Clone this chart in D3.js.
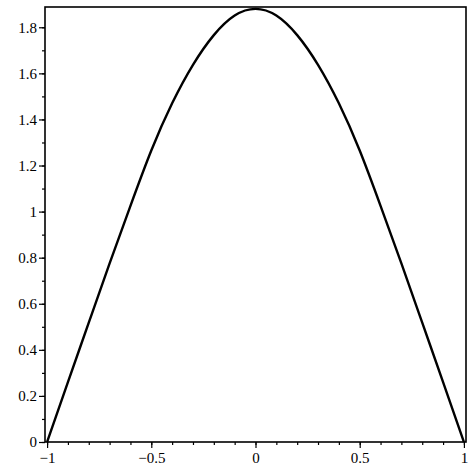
<!DOCTYPE html>
<html>
<head>
<meta charset="utf-8">
<script src="https://cdn.jsdelivr.net/npm/d3@7"></script>
<style>
    body { margin: 0; background: #fff; }
    svg text { font-family: "Liberation Serif", "Times New Roman", serif; font-size: 15px; fill: #000; }
</style>
</head>
<body>
<div id="chart"></div>
<script>
"use strict";

// values, every 0.1 in x
var xValues = [-1, -0.9, -0.8, -0.7, -0.6, -0.5, -0.4, -0.3, -0.2, -0.1, 0,
               0.1, 0.2, 0.3, 0.4, 0.5, 0.6, 0.7, 0.8, 0.9, 1];
var yValues = [0, 0.26, 0.518, 0.775, 1.025, 1.265, 1.47, 1.637, 1.766, 1.851, 1.88,
               1.851, 1.766, 1.637, 1.47, 1.265, 1.025, 0.775, 0.518, 0.26, 0];

var xTicks = [-1, -0.5, 0, 0.5, 1];
var xTickLabels = ["\u22121", "\u22120.5", "0", "0.5", "1"];
var xMinorTicks = d3.range(-10, 11).map(function (i) { return i / 10; });

var yTicks = [0, 0.2, 0.4, 0.6, 0.8, 1, 1.2, 1.4, 1.6, 1.8];
var yTickLabels = ["0", "0.2", "0.4", "0.6", "0.8", "1", "1.2", "1.4", "1.6", "1.8"];
var yMinorTicks = d3.range(0, 19).map(function (i) { return i / 10; });

function plot_chart() {
    var width = 474, height = 474;
    var left = 45, right = 466, top = 7, bottom = 442;

    var svg = d3.select("#chart")
        .append("svg")
        .attr("width", width)
        .attr("height", height);

    var x = d3.scaleLinear().domain([-1.01, 1.01]).range([left, right]);
    var y = d3.scaleLinear().domain([0, 1.888]).range([bottom, top]);

    // minor ticks first, no labels
    svg.append("g")
        .attr("transform", "translate(0," + bottom + ")")
        .call(d3.axisBottom(x).tickValues(xMinorTicks).tickSize(3).tickFormat(""))
        .call(function (g) { g.select(".domain").remove(); });
    svg.append("g")
        .attr("transform", "translate(" + left + ",0)")
        .call(d3.axisLeft(y).tickValues(yMinorTicks).tickSize(3).tickFormat(""))
        .call(function (g) { g.select(".domain").remove(); });

    // major ticks with labels
    svg.append("g")
        .attr("transform", "translate(0," + bottom + ")")
        .call(d3.axisBottom(x).tickValues(xTicks).tickSize(6).tickPadding(4)
            .tickFormat(function (d, i) { return xTickLabels[i]; }))
        .call(function (g) { g.select(".domain").remove(); })
        .call(function (g) { g.selectAll("text").attr("font-size", null); });
    svg.append("g")
        .attr("transform", "translate(" + left + ",0)")
        .call(d3.axisLeft(y).tickValues(yTicks).tickSize(6).tickPadding(2)
            .tickFormat(function (d, i) { return yTickLabels[i]; }))
        .call(function (g) { g.select(".domain").remove(); })
        .call(function (g) { g.selectAll("text").attr("font-size", null); });

    svg.selectAll(".tick line").attr("stroke", "#000").attr("stroke-width", 1.2);
    svg.selectAll("g").attr("font-family", null);

    // box frame
    svg.append("rect")
        .attr("x", left)
        .attr("y", top)
        .attr("width", right - left)
        .attr("height", bottom - top)
        .attr("fill", "none")
        .attr("stroke", "#000")
        .attr("stroke-width", 1.6);

    // the curve
    var data = xValues.map(function (d, i) { return { x: d, y: yValues[i] }; });
    svg.append("path")
        .datum(data)
        .attr("fill", "none")
        .attr("stroke", "#000")
        .attr("stroke-width", 2.4)
        .attr("d", d3.line()
            .curve(d3.curveNatural)
            .x(function (d) { return x(d.x); })
            .y(function (d) { return y(d.y); })
        );
}

plot_chart();
</script>
</body>
</html>
